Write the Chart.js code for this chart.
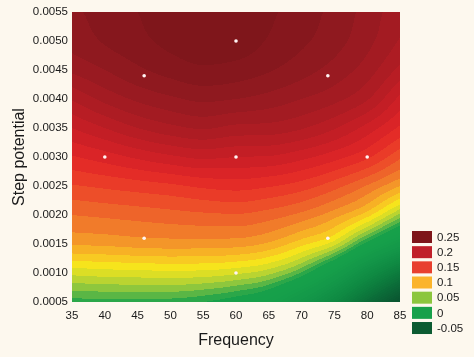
<!DOCTYPE html>
<html><head><meta charset="utf-8">
<script src="https://cdn.jsdelivr.net/npm/chart.js@4/dist/chart.umd.min.js"></script>
<style>html,body{margin:0;padding:0;background:#fdf8ee;}#wrap{width:474px;height:357px;position:relative;}</style>
</head><body><div id="wrap"><canvas id="c"></canvas></div>
<script>
// Grid positions of the fitted response surface
const frequencyGrid = [35, 40, 45, 50, 55, 60, 65, 70, 75, 80, 85];
const stepGrid = [0.0005, 0.0010, 0.0015, 0.0020, 0.0025, 0.0030, 0.0035, 0.0040, 0.0045, 0.0050, 0.0055];
// Response value along frequencyGrid, one array per step potential
const respAt0005 = [0.025, 0.026, 0.026, 0.025, 0.020, 0.010, -0.007, -0.058, -0.127, -0.220, -0.310];
const respAt0010 = [0.063, 0.065, 0.066, 0.067, 0.066, 0.062, 0.053, 0.028, -0.024, -0.101, -0.180];
const respAt0015 = [0.101, 0.102, 0.104, 0.105, 0.105, 0.104, 0.098, 0.083, 0.063, 0.013, -0.040];
const respAt0020 = [0.120, 0.122, 0.124, 0.126, 0.128, 0.129, 0.125, 0.117, 0.104, 0.084, 0.047];
const respAt0025 = [0.139, 0.142, 0.145, 0.148, 0.152, 0.154, 0.151, 0.145, 0.134, 0.119, 0.100];
const respAt0030 = [0.159, 0.165, 0.172, 0.178, 0.182, 0.180, 0.179, 0.173, 0.164, 0.152, 0.132];
const respAt0035 = [0.180, 0.190, 0.200, 0.207, 0.211, 0.207, 0.206, 0.201, 0.191, 0.176, 0.158];
const respAt0040 = [0.201, 0.213, 0.222, 0.228, 0.232, 0.230, 0.226, 0.220, 0.213, 0.201, 0.177];
const respAt0045 = [0.222, 0.230, 0.238, 0.244, 0.248, 0.246, 0.241, 0.234, 0.226, 0.215, 0.197];
const respAt0050 = [0.234, 0.241, 0.247, 0.253, 0.257, 0.256, 0.249, 0.242, 0.234, 0.223, 0.209];
const respAt0055 = [0.238, 0.244, 0.250, 0.256, 0.260, 0.259, 0.252, 0.245, 0.237, 0.226, 0.213];
// Experimental design points (white dots)
const designFreq = [46, 60, 74, 40, 60, 80, 46, 74, 60];
const designStep = [0.0044, 0.0050, 0.0044, 0.0030, 0.0030, 0.0030, 0.0016, 0.0016, 0.0010];
// Legend levels
const legendLevels = ['0.25', '0.2', '0.15', '0.1', '0.05', '0', '-0.05'];
const legendColors = ['#7e1519', '#c0202a', '#e8402f', '#fbb42b', '#8cc63e', '#17a04b', '#0c5b32'];

const respRows = [respAt0005, respAt0010, respAt0015, respAt0020, respAt0025, respAt0030,
                  respAt0035, respAt0040, respAt0045, respAt0050, respAt0055];

const cmapStops = [
  [-0.30,'#0a5530'],[-0.24,'#0b6636'],[-0.18,'#0c7a3c'],[-0.12,'#0f8a42'],[-0.06,'#139648'],
  [0.00,'#16a04a'],[0.02,'#17a04a'],[0.03,'#3fad48'],[0.04,'#74bf41'],[0.05,'#a8cf38'],
  [0.0625,'#d6dc27'],[0.075,'#f6e41c'],[0.0875,'#f8c423'],[0.10,'#f6a427'],[0.11,'#f2882a'],
  [0.12,'#ef6f2a'],[0.13,'#ed5829'],[0.14,'#ec4428'],[0.15,'#e83227'],[0.16,'#df2627'],
  [0.17,'#d42126'],[0.18,'#c81f25'],[0.19,'#bd1d24'],[0.20,'#b21c23'],[0.21,'#a81b22'],
  [0.22,'#9e1a21'],[0.23,'#941920'],[0.24,'#8a181e'],[0.25,'#82161b'],[0.26,'#7c151a'],[0.27,'#76141a']
];
function hex(c){return [parseInt(c.substr(1,2),16),parseInt(c.substr(3,2),16),parseInt(c.substr(5,2),16)];}
const stopsRGB = cmapStops.map(s=>[s[0],hex(s[1])]);
function cmap(v){
  const n = stopsRGB.length;
  if (v <= stopsRGB[0][0]) return stopsRGB[0][1];
  if (v >= stopsRGB[n-1][0]) return stopsRGB[n-1][1];
  for (let k=0;k<n-1;k++){
    const a=stopsRGB[k], b=stopsRGB[k+1];
    if (v>=a[0] && v<=b[0]){
      const t=(v-a[0])/(b[0]-a[0]);
      return [0,1,2].map(c=>Math.round(a[1][c]+(b[1][c]-a[1][c])*t));
    }
  }
  return stopsRGB[n-1][1];
}
const nx = frequencyGrid.length, ny = stepGrid.length;
function g(i,j){
  if (i<0) return 2*g(0,j)-g(1,j);
  if (i>nx-1) return 2*g(nx-1,j)-g(nx-2,j);
  if (j<0) return 2*g(i,0)-g(i,1);
  if (j>ny-1) return 2*g(i,ny-1)-g(i,ny-2);
  return respRows[j][i];
}
// Steffen monotone cubic (no overshoot)
function slope(a,b){ if (a*b<=0) return 0; return Math.sign(a)*2*Math.min(Math.abs(a),Math.abs(b),0.25*Math.abs(a+b)); }
function mc(p0,p1,p2,p3,t){
  const s1=slope(p1-p0,p2-p1), s2=slope(p2-p1,p3-p2);
  const t2=t*t, t3=t2*t;
  return (2*t3-3*t2+1)*p1+(t3-2*t2+t)*s1+(-2*t3+3*t2)*p2+(t3-t2)*s2;
}
function surf(xv,yv){
  const fx=(xv-frequencyGrid[0])/(frequencyGrid[1]-frequencyGrid[0]);
  const fy=(yv-stepGrid[0])/(stepGrid[1]-stepGrid[0]);
  const i=Math.min(Math.max(Math.floor(fx),0),nx-2), j=Math.min(Math.max(Math.floor(fy),0),ny-2);
  const tx=fx-i, ty=fy-j;
  const c=[], r=[];
  for(let m=-1;m<=2;m++) c.push(mc(g(i-1,j+m),g(i,j+m),g(i+1,j+m),g(i+2,j+m),tx));
  for(let m=-1;m<=2;m++) r.push(mc(g(i+m,j-1),g(i+m,j),g(i+m,j+1),g(i+m,j+2),ty));
  return 0.5*(mc(c[0],c[1],c[2],c[3],ty)+mc(r[0],r[1],r[2],r[3],tx));
}
const bandCache = {};
function bandColor(v){
  const idx=Math.floor(v/0.01+1e-9);
  if(!(idx in bandCache)) bandCache[idx]=cmap((idx+0.5)*0.01);
  return bandCache[idx];
}

const contourPlugin = {
  id:'contour',
  beforeDraw(chart){
    const ctx=chart.ctx;
    ctx.save(); ctx.fillStyle='#fdf8ee'; ctx.fillRect(0,0,chart.width,chart.height); ctx.restore();
  },
  beforeDatasetsDraw(chart){
    const {ctx, chartArea, scales} = chart;
    const L=Math.round(chartArea.left), T=Math.round(chartArea.top);
    const W=Math.round(chartArea.right)-L, H=Math.round(chartArea.bottom)-T;
    const img=ctx.createImageData(W,H);
    const d=img.data;
    for(let py=0;py<H;py++){
      const yv=scales.y.getValueForPixel(T+py+0.5);
      for(let px=0;px<W;px++){
        const xv=scales.x.getValueForPixel(L+px+0.5);
        const col=bandColor(surf(xv,yv));
        const o=(py*W+px)*4;
        d[o]=col[0];d[o+1]=col[1];d[o+2]=col[2];d[o+3]=255;
      }
    }
    ctx.putImageData(img,L,T);
  },
  afterDraw(chart){
    const {ctx, chartArea} = chart;
    ctx.save();
    ctx.font='11.5px "Liberation Sans", Arial, sans-serif';
    ctx.textBaseline='middle';
    ctx.textAlign='left';
    const step=15.17, bh=12, bw=20;
    const top0=chartArea.bottom-71;
    legendLevels.forEach((lab,i)=>{
      const yTop=top0+i*step;
      ctx.fillStyle=legendColors[i];
      ctx.fillRect(chartArea.right+12,yTop,bw,bh);
      ctx.fillStyle='#1a1a1a';
      ctx.fillText(lab,chartArea.right+37,yTop+bh/2+0.5);
    });
    ctx.restore();
  }
};

const font = '"Liberation Sans", Arial, sans-serif';
new Chart(document.getElementById('c'), {
  type:'scatter',
  data:{datasets:[{
    data: designFreq.map((f,i)=>({x:f,y:designStep[i]})),
    backgroundColor:'#fff4f4', borderWidth:0, pointRadius:1.8, pointHoverRadius:1.8
  }]},
  options:{
    responsive:true, maintainAspectRatio:false, animation:false, devicePixelRatio:1,
    events:[],
    layout:{padding:{left:0,top:12,right:74,bottom:0}},
    plugins:{legend:{display:false},tooltip:{enabled:false}},
    scales:{
      x:{type:'linear',min:35,max:85,
        grid:{display:false,drawTicks:false}, border:{display:false},
        ticks:{stepSize:5,padding:7,color:'#1a1a1a',font:{family:font,size:11.5},maxRotation:0},
        title:{display:true,text:'Frequency',color:'#1a1a1a',font:{family:font,size:16},padding:{top:0,bottom:6.5}},
        afterFit(s){s.height=55;}
      },
      y:{type:'linear',min:0.0005,max:0.0055,
        grid:{display:false,drawTicks:false}, border:{display:false},
        ticks:{stepSize:0.0005,padding:4,color:'#1a1a1a',font:{family:font,size:11.5},callback:v=>Number(v).toFixed(4)},
        title:{display:true,text:'Step potential',color:'#1a1a1a',font:{family:font,size:16},padding:{top:9.5,bottom:0}},
        afterFit(s){s.width=72;}
      }
    }
  },
  plugins:[contourPlugin]
});
</script></body></html>
